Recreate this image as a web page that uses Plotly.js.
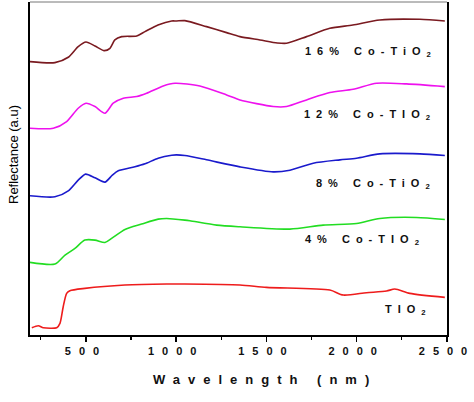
<!DOCTYPE html>
<html>
<head>
<meta charset="utf-8">
<script src="https://cdn.plot.ly/plotly-3.0.1.min.js"></script>
<style>
html,body{margin:0;padding:0;background:#fff;}
#chart{width:474px;height:402px;}
.xtick text{letter-spacing:8px;}
.annotation-text{letter-spacing:6px;}
.annotation[data-index="5"] .annotation-text{letter-spacing:8px;}
.annotation[data-index="6"] .annotation-text{letter-spacing:0px;}
</style>
</head>
<body>
<div id="chart"></div>
<script>
// Wavelength (nm) and reflectance (a.u., offset curves)
const wl16 = [190, 328, 402, 457, 500, 550, 601, 633, 660, 698, 781, 827, 899, 975, 1002, 1048, 1168, 1279, 1353, 1464, 1560, 1611, 1722, 1851, 1978, 2128, 2350, 2488];
const r16  = [82.1, 81.8, 83.4, 86.6, 88.0, 86.8, 85.4, 86.1, 88.6, 89.6, 89.8, 91.1, 93.1, 94.3, 94.3, 94.4, 92.6, 90.8, 89.6, 88.6, 87.7, 87.6, 89.6, 92.1, 93.1, 94.6, 94.8, 94.3];

const wl12 = [190, 319, 393, 457, 500, 550, 605, 651, 707, 781, 836, 928, 993, 1131, 1279, 1353, 1537, 1611, 1722, 1851, 1980, 2110, 2276, 2488];
const r12  = [62.1, 62.1, 64.1, 68.1, 69.6, 68.6, 66.6, 69.6, 71.1, 71.6, 72.6, 74.8, 75.6, 74.8, 72.1, 70.6, 68.6, 68.6, 70.6, 72.8, 73.8, 75.6, 75.4, 74.6];

const wl8 = [190, 328, 402, 457, 498, 550, 605, 646, 679, 771, 827, 900, 975, 1002, 1048, 1168, 1353, 1537, 1630, 1759, 1907, 1999, 2128, 2350, 2488];
const r8  = [41.8, 41.5, 43.3, 46.5, 48.3, 47.2, 45.9, 48.0, 49.3, 50.5, 51.4, 53.1, 54.0, 54.1, 53.9, 52.6, 50.5, 49.0, 49.5, 51.6, 52.6, 53.1, 54.4, 54.4, 53.9];

const wl4 = [190, 328, 384, 439, 494, 550, 605, 642, 716, 808, 900, 947, 1048, 1076, 1224, 1353, 1630, 1814, 1999, 2128, 2331, 2488];
const r4  = [21.8, 21.3, 24.0, 26.0, 28.5, 28.5, 27.8, 29.0, 31.7, 33.3, 34.8, 35.0, 34.5, 34.3, 33.0, 32.5, 31.8, 33.0, 33.5, 35.0, 35.3, 34.7];

const wl0 = [200, 236, 264, 338, 356, 374, 393, 411, 494, 716, 947, 1048, 1353, 1500, 1851, 1925, 2054, 2165, 2211, 2294, 2488];
const r0  = [2.2, 2.8, 2.2, 2.2, 3.5, 8.5, 12.5, 13.3, 14.0, 15.0, 15.3, 15.3, 15.0, 14.3, 13.5, 12.0, 12.7, 13.2, 13.8, 12.5, 11.3];

const seriesNames = ['16% Co-TiO<sub>2</sub>', '12% Co-TIO<sub>2</sub>', '8% Co-TiO<sub>2</sub>', '4% Co-TIO<sub>2</sub>', 'TIO<sub>2</sub>'];
const seriesColors = ['#7a1a20', '#ee11ee', '#1a1acc', '#22dd22', '#ee1c1c'];
const labelX = [1702, 1696, 1762, 1702, 2145];
const labelY = [85.0, 66.1, 45.3, 28.5, 7.5];

const xTickVals = [500, 1000, 1500, 2000, 2500];
const xTickText = ['500', '1000', '1500', '2000', '2500'];
const xMinorVals = [250, 750, 1250, 1750, 2250];
const xTitle = 'Wavelength (nm)';
const yTitle = 'Reflectance (a.u)';

const xs = [wl16, wl12, wl8, wl4, wl0];
const ys = [r16, r12, r8, r4, r0];

const FONT = 'Liberation Sans, Arial, sans-serif';

const traces = xs.map((x, i) => ({
  x: x, y: ys[i], type: 'scatter', mode: 'lines',
  line: {color: seriesColors[i], width: 1.6, shape: 'spline', smoothing: 0.7},
  name: seriesNames[i], showlegend: false, hoverinfo: 'skip'
}));

const annotations = seriesNames.map((t, i) => ({
  x: labelX[i], y: labelY[i], xref: 'x', yref: 'y', text: t,
  showarrow: false, xanchor: 'left', yanchor: 'middle',
  font: {family: FONT, size: 11, color: '#111', weight: 'bold'}
}));
// axis titles (index 5 and 6)
annotations.push({
  x: 0.325, y: -0.135, xref: 'paper', yref: 'paper', text: xTitle,
  showarrow: false, xanchor: 'left', yanchor: 'middle',
  font: {family: FONT, size: 13, color: '#111', weight: 'bold'}
});
annotations.push({
  x: -0.0408, y: 0.5435, xref: 'paper', yref: 'paper', text: yTitle,
  showarrow: false, xanchor: 'center', yanchor: 'middle', textangle: -90,
  font: {family: FONT, size: 13, color: '#000'}
});

const layout = {
  width: 474, height: 402,
  margin: {l: 30, r: 27, t: 2, b: 67},
  paper_bgcolor: '#fff', plot_bgcolor: '#fff',
  xaxis: {
    range: [190, 2500], showgrid: false, zeroline: false,
    showline: true, linecolor: '#000', linewidth: 2, mirror: false,
    tickmode: 'array', tickvals: xTickVals, ticktext: xTickText,
    ticks: 'outside', ticklen: 5, tickwidth: 1.5, tickcolor: '#000',
    ticklabeloverflow: 'allow',
    minor: {tickmode: 'array', tickvals: xMinorVals, ticks: 'outside', ticklen: 3, tickwidth: 1.2, tickcolor: '#000'},
    tickfont: {family: FONT, size: 11, color: '#111', weight: 'bold'},
    automargin: false
  },
  yaxis: {
    range: [0, 100], showgrid: false, zeroline: false,
    showline: true, linecolor: '#000', linewidth: 2, mirror: true,
    showticklabels: false, ticks: '',
    automargin: false
  },
  shapes: [{type: 'line', xref: 'paper', yref: 'paper', x0: 0, x1: 1, y0: 1, y1: 1,
    line: {color: '#777', width: 1}}],
  annotations: annotations
};

Plotly.newPlot('chart', traces, layout, {displayModeBar: false, staticPlot: true});
</script>
</body>
</html>
